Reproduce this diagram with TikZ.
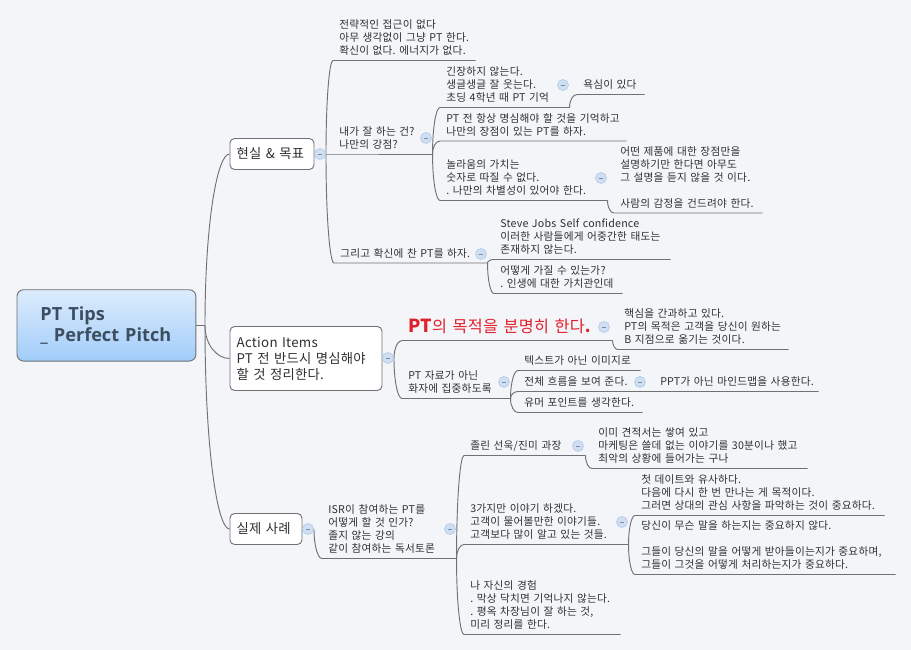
\documentclass[tikz,border=0pt]{standalone}
\usepackage{fontspec}
\setmainfont[LetterSpace=2]{Noto Sans CJK KR}
\newfontfamily\rootfont{Open Sans}
\frenchspacing
\usetikzlibrary{calc}
\definecolor{mapback}{HTML}{F3F5F9}
\definecolor{mapline}{HTML}{6E7276}
\definecolor{maptext}{HTML}{2E3033}
\definecolor{rootink}{HTML}{3D4E60}
\definecolor{rootlight}{HTML}{DCECFC}
\definecolor{rootdeep}{HTML}{A2CDFA}
\definecolor{redink}{HTML}{E0202A}
\definecolor{foldedge}{HTML}{B4CBE8}
\definecolor{foldfill}{HTML}{CFDFF3}
\tikzset{
    link/.style={draw=mapline, line width=0.7pt},
    branch/.style={to path={.. controls ($(\tikztostart)!.6!(\tikztostart |- \tikztotarget)$) and ($(\tikztostart |- \tikztotarget)!.5!(\tikztotarget)$) .. (\tikztotarget)}},
    topic/.style={anchor=south west, align=left, inner xsep=4.5pt, inner ysep=1.3pt,
        text width=(#1)*0.75pt-9pt, text=maptext, execute at end node=\strut,
        font=\fontsize{8}{9.75}\selectfont},
    mainbox/.style={draw=mapline, line width=0.7pt, fill=white, rounded corners=3.5pt, anchor=west,
        align=left, inner xsep=5pt, inner ysep=0pt, text width=(#1)*0.75pt-10pt, text=maptext,
        font=\fontsize{10}{12}\selectfont},
    fold/.style={circle, draw=foldedge, fill=foldfill, inner sep=0pt, minimum size=8.25pt, line width=0.5pt,
        path picture={\draw[foldedge!70!black, line width=0.5pt]
            ([xshift=-1.8pt]path picture bounding box.center) -- ([xshift=1.8pt]path picture bounding box.center);}}
}
\begin{document}
\begin{tikzpicture}[x=0.75pt, y=-0.75pt]
    \useasboundingbox (0,0) rectangle (911,650);
    \fill[mapback] (0,0) rectangle (911,650);

    \node[draw=mapline, line width=0.7pt, top color=rootlight, bottom color=rootdeep,
        rounded corners=5pt, anchor=west, align=left, inner xsep=7.1pt, inner ysep=0pt, text width=120pt,
        minimum height=53.5pt, text=rootink, font=\rootfont\bfseries\fontsize{13.6}{15.8}\selectfont]
        (root) at (16.5,325.4) {\hspace*{10.5pt}PT Tips\\\hspace*{10.5pt}\_ Perfect Pitch};

    \coordinate (hub) at (205,325.4);
    \coordinate (juncreal) at (326,154);
    \coordinate (juncact) at (394,358.5);
    \coordinate (junccase) at (314,529);

    \node[mainbox=84, minimum height=23.25pt] (real) at (229.5,154) {현실 \& 목표};
    \node[mainbox=152, minimum height=48pt] (action) at (229.5,358.5) {Action Items\\PT 전 반드시 명심해야\\할 것 정리한다.};
    \node[mainbox=72, minimum height=23.25pt] (case) at (229.5,529) {실제 사례};

    \foreach \N/\XS/\Y/\XE/\T in {
        a1/333/60.5/475/{전략적인 접근이 없다\\아무 생각없이 그냥 PT 한다.\\확신이 없다. 에너지가 없다.},
        a2/333/154/432/{내가 잘 하는 건?\\나만의 강점?},
        a3/334/263/487/{그리고 확신에 찬 PT를 하자.},
        b0/440/107.5/569/{긴장하지 않는다.\\생글생글 잘 웃는다.\\초딩 4학년 때 PT 기억},
        b1/440/141/626/{PT 전 항상 명심해야 할 것을 기억하고\\나만의 장점이 있는 PT를 하자.},
        b2/440/200.5/607/{놀라움의 가치는\\숫자로 따질 수 없다.\\. 나만의 차별성이 있어야 한다.},
        c1/577/94.5/644/{욕심이 있다},
        d1/614/213/762/{어떤 제품에 대한 장점만을\\설명하기만 한다면 아무도\\그 설명을 듣지 않을 것 이다.\\\mbox{}\\사람의 감정을 건드려야 한다.},
        e1/494/259.5/670/{Steve Jobs Self confidence\\이러한 사람들에게 어중간한 태도는\\존재하지 않는다.},
        e2/494/293.5/622/{어떻게 가질 수 있는가?\\. 인생에 대한 가치관인데},
        f2/402/398.5/510/{PT 자료가 아닌\\화자에 집중하도록},
        g1/618/349.5/788/{핵심을 간과하고 있다.\\PT의 목적은 고객을 당신이 원하는\\B 지점으로 옮기는 것이다.},
        h1/518/370.5/640/{텍스트가 아닌 이미지로},
        h2/518/391.5/632/{\mbox{전체 흐름을 보여 준다.}},
        h3/518/412.5/642/{유머 포인트를 생각한다.},
        i1/654/391.5/818/{\mbox{PPT가 아닌 마인드맵을 사용한다.}},
        j1/322/558.5/456/{ISR이 참여하는 PT를\\어떻게 할 것 인가?\\졸지 않는 강의\\같이 참여하는 독서토론},
        k1/464/455.5/585/{졸린 선욱/진미 과장},
        k2/464/544.5/628/{3가지만 이야기 하겠다.\\고객이 물어볼만한 이야기들.\\고객보다 많이 알고 있는 것들.},
        k3/464/634.5/620/{나 자신의 경험\\. 막상 닥치면 기억나지 않는다.\\. 평옥 차장님이 잘 하는 것,\\미리 정리를 한다.},
        l1/592/468.5/807/{이미 견적서는 쌓여 있고\\마케팅은 쓸데 없는 이야기를 30분이나 했고\\최악의 상황에 들어가는 구나},
        m1/635/515.5/884/{첫 데이트와 유사하다.\\다음에 다시 한 번 만나는 게 목적이다.\\그러면 상대의 관심 사항을 파악하는 것이 중요하다.},
        m2/635/574.5/895/{당신이 무슨 말을 하는지는 중요하지 않다.\\\mbox{}\\그들이 당신의 말을 어떻게 받아들이는지가 중요하며,\\그들이 그것을 어떻게 처리하는지가 중요하다.}
        } {
        \node[topic={\XE-\XS}] (\N) at (\XS,\Y) {\T};
        }

    \node[topic=210, text=redink, font=\fontsize{12.2}{16}\selectfont] (f1) at (402,340.5)
        {{\bfseries\fontsize{13.5}{16}\selectfont PT}의 목적을 분명히 한다{\bfseries .}};

    \draw[link] (root.east) -- (hub);
    \draw[link] (hub) to[branch] (real.west);
    \draw[link] (hub) to[branch] (action.west);
    \draw[link] (hub) to[branch] (case.west);

    \draw[link] (real.east) -- (juncreal) -- (a2.south east);
    \draw[link] (juncreal) to[branch] (a1.south west) -- (a1.south east);
    \draw[link] (juncreal) to[branch] (a3.south west) -- (a3.south east);
    \draw[link] (a2.south east) to[branch] (b0.south west) -- (b0.south east);
    \draw[link] (a2.south east) to[branch] (b1.south west) -- (b1.south east);
    \draw[link] (a2.south east) to[branch] (b2.south west) -- (b2.south east);
    \draw[link] (b0.south east) to[branch] (c1.south west) -- (c1.south east);
    \draw[link] (b2.south east) to[branch] (d1.south west) -- (d1.south east);
    \draw[link] (a3.south east) to[branch] (e1.south west) -- (e1.south east);
    \draw[link] (a3.south east) to[branch] (e2.south west) -- (e2.south east);

    \draw[link] (action.east) -- (juncact);
    \draw[link] (juncact) to[branch] (f1.south west) -- (f1.south east);
    \draw[link] (juncact) to[branch] (f2.south west) -- (f2.south east);
    \draw[link] (f1.south east) to[branch] (g1.south west) -- (g1.south east);
    \draw[link] (f2.south east) to[branch] (h1.south west) -- (h1.south east);
    \draw[link] (f2.south east) to[branch] (h2.south west) -- (h2.south east) -- (i1.south east);
    \draw[link] (f2.south east) to[branch] (h3.south west) -- (h3.south east);

    \draw[link] (case.east) -- (junccase);
    \draw[link] (junccase) to[branch] (j1.south west) -- (j1.south east);
    \draw[link] (j1.south east) to[branch] (k1.south west) -- (k1.south east);
    \draw[link] (j1.south east) to[branch] (k2.south west) -- (k2.south east);
    \draw[link] (j1.south east) to[branch] (k3.south west) -- (k3.south east);
    \draw[link] (k1.south east) to[branch] (l1.south west) -- (l1.south east);
    \draw[link] (k2.south east) to[branch] (m1.south west) -- (m1.south east);
    \draw[link] (k2.south east) to[branch] (m2.south west) -- (m2.south east);

    \foreach \N/\X/\Y in {real/320/154, act/388/358, case/308/529, a2/426/138, b0/563/85,
        b2/601/178, a3/481/254, f1/604/327, f2/504/382, h2/640/382, j1/450/529, k1/578/446, k2/622/522} {
        \node[fold] (fold\N) at (\X,\Y) {};
        }
\end{tikzpicture}
\end{document}
